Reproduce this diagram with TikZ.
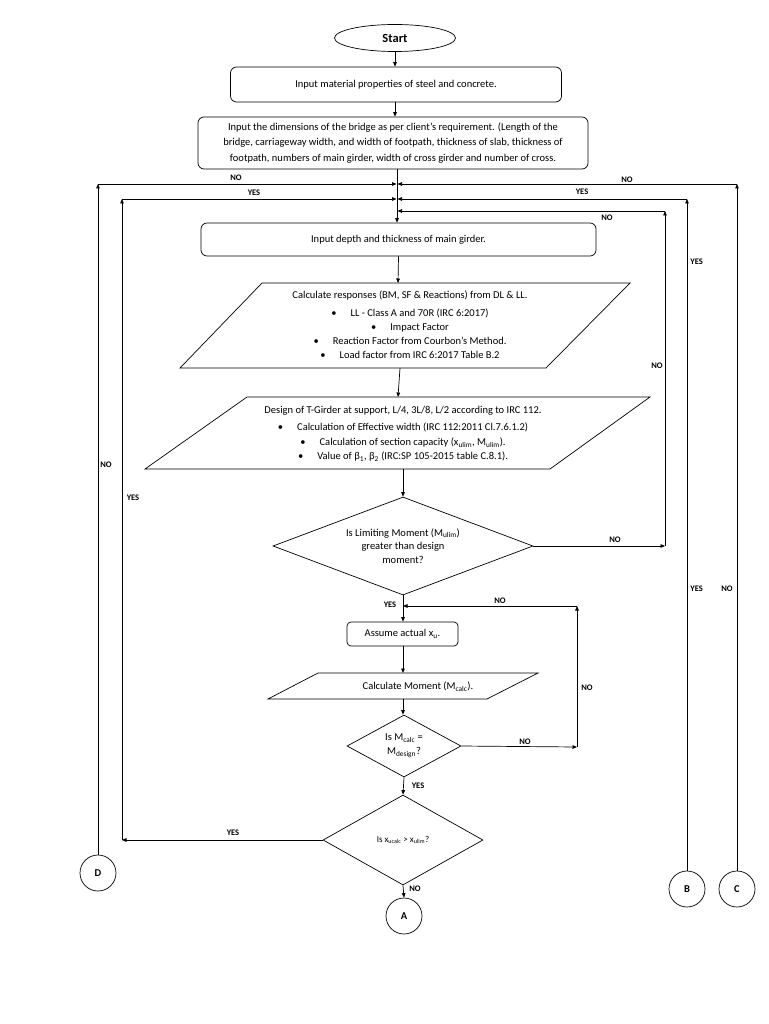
\documentclass[tikz,border=0pt]{standalone}
\usepackage{fontspec}
\setmainfont{Carlito}
\usetikzlibrary{shapes.geometric,arrows.meta}
\newcommand{\bul}{\textbullet\hspace{14pt}}
\begin{document}
\begin{tikzpicture}[x=1pt,y=-1pt,line width=0.7pt,
  arr/.style={-{Triangle[length=4.5pt,width=3.6pt]}},
  rbox/.style={draw,rounded corners=6pt,align=center,inner sep=0pt,font=\txt},
  lbl/.style={font=\fontsize{8.5}{10}\selectfont\bfseries,inner sep=0pt},
  dia/.style={draw,diamond,inner sep=0pt,align=center,font=\txt},
  conn/.style={draw,circle,minimum size=36pt,inner sep=0pt,font=\fontsize{10.5}{12}\selectfont\bfseries},
  txtnode/.style={align=center,inner sep=0pt,font=\txt}]
\def\txt{\fontsize{10.5}{14}\selectfont}
\useasboundingbox (0,0) rectangle (768,1024);
% main column
\node[draw,ellipse,minimum width=121pt,minimum height=27pt,inner sep=0pt,font=\fontsize{12.5}{14}\selectfont\bfseries] (start) at (395,38) {Start};
\node[rbox,minimum width=331pt,minimum height=35pt] (b1) at (396,84.5) {Input material properties of steel and concrete.};
\node[rbox,minimum width=390pt,minimum height=52pt,font=\fontsize{10.5}{15.5}\selectfont] (b2) at (393,143) {Input the dimensions of the bridge as per client's requirement. (Length of the\\ bridge, carriageway width, and width of footpath, thickness of slab, thickness of\\ footpath, numbers of main girder, width of cross girder and number of cross.};
\node[rbox,minimum width=395pt,minimum height=33pt] (b3) at (398.5,239.5) {Input depth and thickness of main girder.};
% parallelogram 1
\draw (262,283) -- (630,283) -- (546,368) -- (180,368) -- cycle;
\coordinate (p1t) at (398,283);
\coordinate (p1b) at (400,368);
\node[txtnode] (p1) at (410,325) {Calculate responses (BM, SF \& Reactions) from DL \& LL.\\[4pt]
 \bul LL - Class A and 70R (IRC 6:2017)\\ \bul Impact Factor\\ \bul Reaction Factor from Courbon's Method.\\ \bul Load factor from IRC 6:2017 Table B.2};
% parallelogram 2
\draw (247,397) -- (650,397) -- (550,469) -- (145,469) -- cycle;
\coordinate (p2t) at (398,397);
\coordinate (p2b) at (403,469);
\node[txtnode,font=\fontsize{10.5}{14.5}\selectfont] (p2) at (403,434) {Design of T-Girder at support, L/4, 3L/8, L/2 according to IRC 112.\\[3pt]
 \bul Calculation of Effective width (IRC 112:2011 Cl.7.6.1.2)\\ \bul Calculation of section capacity (x\textsubscript{ulim}, M\textsubscript{ulim}).\\ \bul Value of β\textsubscript{1}, β\textsubscript{2} (IRC:SP 105-2015 table C.8.1).};
% diamond 1
\node[dia,minimum width=260pt,minimum height=98pt,shape aspect=2.6,font=\fontsize{10.5}{13.5}\selectfont] (d1) at (403,546) {Is Limiting Moment (M\textsubscript{ulim})\\ greater than design\\ moment?};
\node[rbox,minimum width=111pt,minimum height=24pt,rounded corners=4pt] (as) at (402.5,634) {Assume actual x\textsubscript{u}.};
% parallelogram 3
\draw (318,673) -- (538,673) -- (487,699) -- (268,699) -- cycle;
\coordinate (p3t) at (403,673);
\coordinate (p3b) at (403,699);
\node[txtnode] (p3) at (418,686.5) {Calculate Moment (M\textsubscript{calc}).};
% diamond 2 and 3
\node[dia,minimum width=114pt,minimum height=62pt,shape aspect=1.84,font=\fontsize{10.5}{14}\selectfont] (d2) at (404,746) {Is M\textsubscript{calc} =\\ M\textsubscript{design}?};
\node[dia,minimum width=160pt,minimum height=90pt,shape aspect=1.78,font=\fontsize{9}{10}\selectfont] (d3) at (403,840) {Is x\textsubscript{ucalc} > x\textsubscript{ulim}?};
% connectors circles
\node[conn] (A) at (404,916) {A};
\node[conn] (D) at (98,873) {D};
\node[conn] (B) at (687,889) {B};
\node[conn] (C) at (737,889) {C};
% junction coordinates
\coordinate (jno) at (397,184);
\coordinate (jyes) at (397,199);
\coordinate (jno2) at (397,211);
\coordinate (dtop) at (98,184);
\coordinate (ytop) at (122,199);
\coordinate (ybot) at (122,840);
\coordinate (ctop) at (737,184);
\coordinate (btop) at (687,199);
\coordinate (nright) at (665,546);
\coordinate (ntop) at (665,211);
\coordinate (lr) at (577,747);
\coordinate (lt) at (577,606);
\coordinate (lj) at (403,606);
% main arrows
\draw[arr] (start.south) -- (start.south |- b1.north);
\draw[arr] (b1.south -| start.south) -- (start.south |- b2.north);
\draw[arr] (b2.south -| jno) -- (jno |- b3.north);
\draw[arr] (b3.south) -- (p1t);
\draw[arr] (p1b) -- (p2t);
\draw[arr] (p2b) -- (d1.north);
\draw[arr] (d1.south) -- (d1.south |- as.north);
\draw[arr] (as.south -| d1.south) -- (p3t);
\draw[arr] (p3b) -- (d2.north -| p3b);
\draw[arr] (d2.south) -- (d3.north);
\draw[arr] (d3.south) -- (A.north);
% left loops
\draw[arr] (D.north) -- (dtop);
\draw[arr] (dtop) -- ([xshift=-0.5pt]jno);
\draw[arr] (d3.west) -- (ybot);
\draw[arr] (ybot) -- (ytop);
\draw[arr] (ytop) -- ([xshift=-0.5pt]jyes);
% right loops
\draw[arr] (C.north) -- (ctop);
\draw[arr] (ctop) -- ([xshift=0.5pt]jno);
\draw[arr] (B.north) -- (btop);
\draw[arr] (btop) -- ([xshift=0.5pt]jyes);
\draw[arr] (d1.east) -- (nright);
\draw[arr] (nright) -- (ntop);
\draw[arr] (ntop) -- ([xshift=0.5pt]jno2);
% inner loop
\draw[arr] (d2.east) -- (lr);
\draw[arr] (lr) -- (lt);
\draw[arr] (lt) -- (lj);
% labels
\node[lbl] (l1) at (236,178) {NO};
\node[lbl] (l2) at (254,193) {YES};
\node[lbl] (l3) at (627,180) {NO};
\node[lbl] (l4) at (582,192) {YES};
\node[lbl] (l5) at (607,218) {NO};
\node[lbl,anchor=west] (l6) at (690,262) {YES};
\node[lbl] (l7) at (657,366) {NO};
\node[lbl] (l8) at (615,540) {NO};
\node[lbl] (l9) at (106,465) {NO};
\node[lbl] (l10) at (133,498) {YES};
\node[lbl,anchor=west] (l11) at (690,589) {YES};
\node[lbl] (l12) at (727,589) {NO};
\node[lbl] (l13) at (390,605) {YES};
\node[lbl] (l14) at (500,601) {NO};
\node[lbl] (l15) at (587,688) {NO};
\node[lbl] (l16) at (525,742) {NO};
\node[lbl] (l17) at (418,786) {YES};
\node[lbl] (l18) at (233,833) {YES};
\node[lbl] (l19) at (415,889) {NO};
\end{tikzpicture}
\end{document}
